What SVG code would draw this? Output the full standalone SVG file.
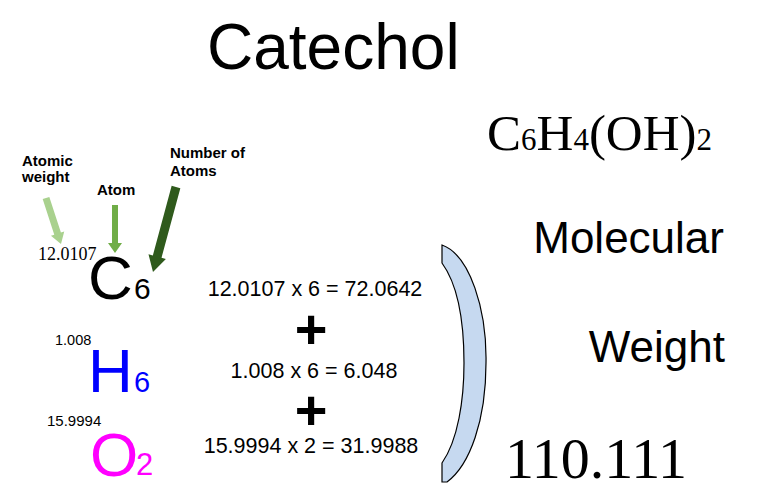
<svg xmlns="http://www.w3.org/2000/svg" width="757" height="501" viewBox="0 0 757 501">
<style>
.a{font-family:"Liberation Sans",Arial,sans-serif;fill:#000}
.t{font-family:"Liberation Serif","Times New Roman",serif;fill:#000}
.lb{font-family:"Liberation Sans",Arial,sans-serif;font-weight:bold;font-size:15px;fill:#000}
.eq{font-family:"Liberation Sans",Arial,sans-serif;font-size:21.5px;text-anchor:middle;fill:#000}
.pl{font-family:"Liberation Sans",Arial,sans-serif;font-weight:bold;font-size:56px;text-anchor:middle;fill:#000}
.big{font-size:62px}
.blue{fill:#0000ff}
.mag{fill:#ff00ff}
</style>
<rect width="757" height="501" fill="#fff"/>
<g id="title"><text class="a" x="207" y="69" font-size="64">Catechol</text></g>
<g id="formula"><text class="t" x="487" y="150" font-size="51">C<tspan font-size="31">6</tspan>H<tspan font-size="31">4</tspan>(OH)<tspan font-size="31">2</tspan></text></g>
<g id="mw-label">
<text class="a" x="724" y="253" font-size="44" text-anchor="end">Molecular</text>
<text class="a" x="725" y="362" font-size="44" text-anchor="end">Weight</text>
</g>
<g id="mw-value"><text class="t" x="505" y="478" font-size="58">110.111</text></g>
<g id="label-atomic-weight"><text class="lb" x="22" y="166">Atomic</text><text class="lb" x="22" y="182">weight</text></g>
<g id="label-atom"><text class="lb" x="97" y="195">Atom</text></g>
<g id="label-number"><text class="lb" x="170" y="158">Number of</text><text class="lb" x="170" y="176">Atoms</text></g>
<g id="connectors">
<polygon fill="#a9d18e" points="42.68,199.09 49.33,196.92 60.92,232.47 64.24,231.38 61,244 50.94,235.72 54.27,234.64"/>
<polygon fill="#70ad47" points="112,205 118,205 118,243 122,243 115,253 108,243 112,243"/>
<polygon fill="#2f5a1c" points="171.66,185.82 180.34,188.18 161.52,257.74 165.87,258.91 153,272 148.49,254.21 152.84,255.38"/>
</g>
<g id="carbon">
<text class="t" x="38" y="260" font-size="18">12.0107</text>
<text class="a big" x="88" y="299">C</text>
<text class="a" x="134" y="299" font-size="30">6</text>
</g>
<g id="hydrogen">
<text class="a" x="55" y="345" font-size="14.5">1.008</text>
<text class="a big blue" x="88" y="392">H</text>
<text class="a blue" x="134" y="392" font-size="29">6</text>
</g>
<g id="oxygen">
<text class="a" x="47" y="426" font-size="15">15.9994</text>
<text class="a big mag" x="90" y="476">O</text>
<text class="a mag" x="136" y="475" font-size="31">2</text>
</g>
<g id="calc">
<text class="eq" x="315" y="296">12.0107 x 6 = 72.0642</text>
<text class="pl" x="311" y="348">+</text>
<text class="eq" x="314" y="378">1.008 x 6 = 6.048</text>
<text class="pl" x="311" y="429">+</text>
<text class="eq" x="311" y="453">15.9994 x 2 = 31.9988</text>
</g>
<g id="bracket">
<path d="M442,245 C470,255 487,310 486,363 C486,420 470,465 447,482 L442,482 L442,463 C458,440 464,400 464,363 C464,320 458,285 442,263 Z" fill="#c6d9f0" stroke="#000" stroke-width="1.2"/>
</g>
</svg>
